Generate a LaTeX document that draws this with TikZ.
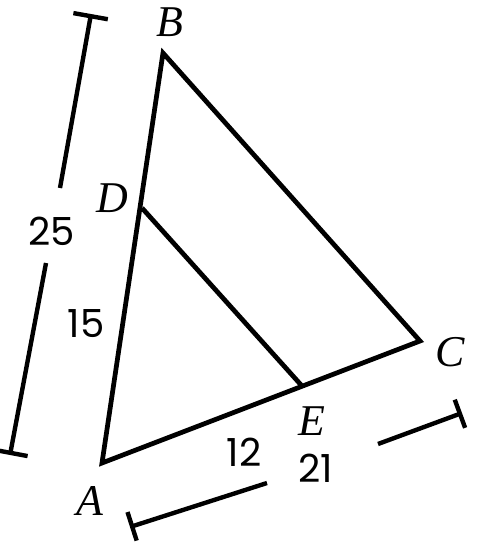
\documentclass[tikz,border=0pt]{standalone}
\usepackage{fontspec}
\setmainfont{Liberation Serif}
\newfontfamily\numfont{Poppins}
\usetikzlibrary{arrows.meta}
\tikzset{
  side/.style={line width=2.7pt, line join=miter},
  dim/.style={line width=2.5pt},
  vlabel/.style={font=\fontsize{25}{28}\selectfont\itshape},
  nlabel/.style={font=\fontsize{22}{24}\selectfont\numfont}
}
\begin{document}
\begin{tikzpicture}[x=0.02cm,y=-0.02cm]
\useasboundingbox (0,0) rectangle (478,542);
% triangle
\coordinate (A) at (102,463);
\coordinate (B) at (163,53);
\coordinate (C) at (420,341);
\coordinate (D) at (142,208);
\coordinate (E) at (302,386);
\draw[side] (A) -- (B) -- (C) -- cycle;
\draw[side] (D) -- (E);
\node[vlabel] (lA) at (90,501) {A};
\node[vlabel] (lB) at (170,22) {B};
\node[vlabel] (lC) at (450,352) {C};
\node[vlabel] (lD) at (112,198) {D};
\node[vlabel] (lE) at (312,421) {E};
\node[nlabel] (n15) at (86,324) {15};
\node[nlabel] (n12) at (244,452) {12};
% dimension lines
\coordinate (t1) at (91,14);
\coordinate (t2) at (60,188);
\coordinate (t3) at (46,263);
\coordinate (t4) at (10,455);
\draw[dim,{Bar[width=0.7cm]}-] (t1) -- (t2);
\draw[dim,-{Bar[width=0.7cm]}] (t3) -- (t4);
\node[nlabel] (n25) at (52,231) {25};
\coordinate (b1) at (130,527);
\coordinate (b2) at (267,483);
\coordinate (b3) at (378,444);
\coordinate (b4) at (462,413);
\draw[dim,{Bar[width=0.6cm]}-] (b1) -- (b2);
\draw[dim,-{Bar[width=0.6cm]}] (b3) -- (b4);
\node[nlabel] (n21) at (316,468) {21};
\end{tikzpicture}
\end{document}
